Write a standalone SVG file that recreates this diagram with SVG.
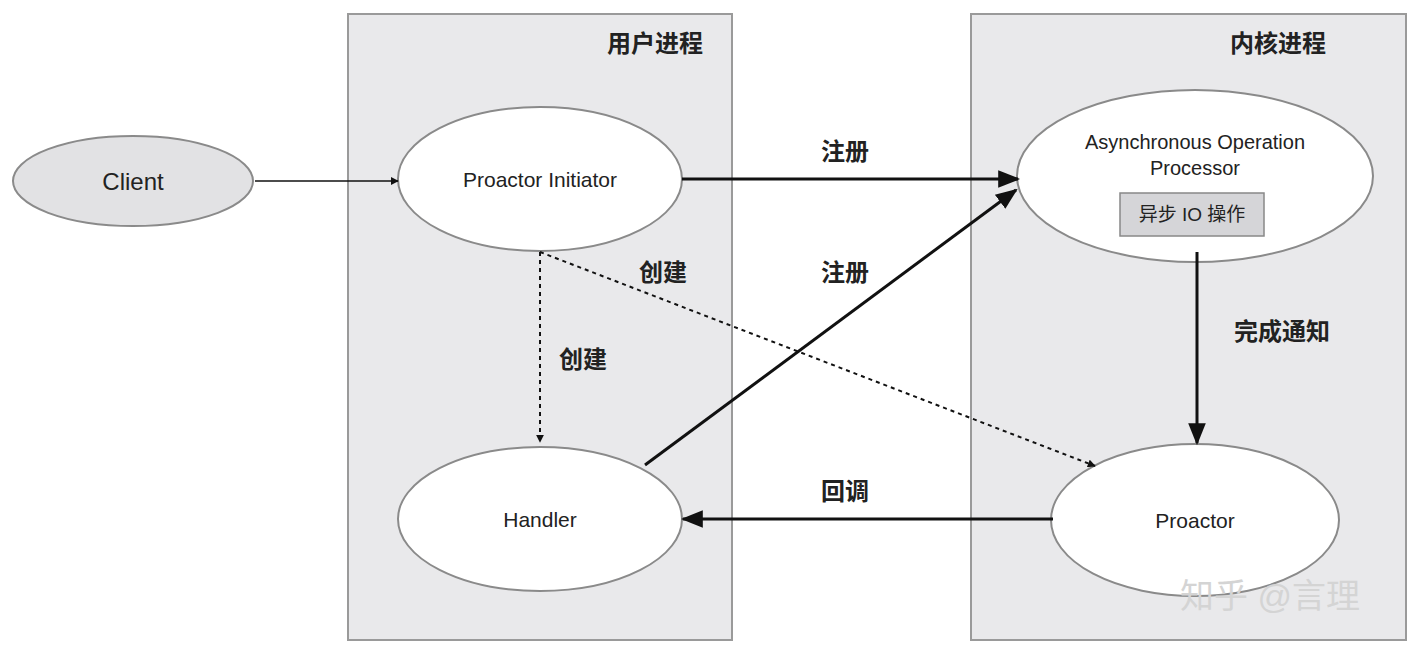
<svg xmlns="http://www.w3.org/2000/svg" width="1418" height="654" viewBox="0 0 1418 654">
<style>
.panel{fill:#e9e9eb;stroke:#9a9a9a;stroke-width:2}
.node{fill:#fff;stroke:#8a8a8a;stroke-width:2}
.t{font-family:"Liberation Sans","Noto Sans CJK SC",sans-serif;fill:#222;text-anchor:middle}
.c{stroke:#111;fill:none}
</style>
<defs>
<marker id="a" viewBox="0 0 10 10" refX="9" refY="5" markerWidth="8" markerHeight="8" orient="auto" markerUnits="userSpaceOnUse"><path d="M0,0L10,5L0,10z" fill="#111"/></marker>
<marker id="b" viewBox="0 0 10 10" refX="9" refY="5" markerWidth="22" markerHeight="22" orient="auto" markerUnits="userSpaceOnUse"><path d="M0,1L10,5L0,9z" fill="#111"/></marker>
</defs>
<rect width="1418" height="654" fill="#fff"/>
<rect class="panel" x="348" y="14" width="384" height="626"/>
<rect class="panel" x="971" y="14" width="435" height="626"/>
<text class="t" x="655" y="52" font-size="24" font-weight="bold">用户进程</text>
<text class="t" x="1278" y="52" font-size="24" font-weight="bold">内核进程</text>
<g id="client"><ellipse cx="133" cy="181" rx="120" ry="45" fill="#e2e2e4" stroke="#8a8a8a" stroke-width="2"/><text class="t" x="133" y="190" font-size="24">Client</text></g>
<g id="initiator"><ellipse class="node" cx="540" cy="179" rx="142" ry="72"/><text class="t" x="540" y="187" font-size="21">Proactor Initiator</text></g>
<g id="handler"><ellipse class="node" cx="540" cy="519" rx="142" ry="72"/><text class="t" x="540" y="527" font-size="21">Handler</text></g>
<g id="aop"><ellipse class="node" cx="1195" cy="176" rx="178" ry="86"/><text class="t" x="1195" y="149" font-size="20">Asynchronous Operation</text><text class="t" x="1195" y="175" font-size="20">Processor</text><rect x="1120" y="193" width="144" height="43" fill="#d5d5d8" stroke="#888" stroke-width="1.5"/><text class="t" x="1192" y="221" font-size="19">异步 IO 操作</text></g>
<g id="proactor"><ellipse class="node" cx="1195" cy="520" rx="144" ry="76"/><text class="t" x="1195" y="528" font-size="21">Proactor</text></g>
<g id="connectors">
<line class="c" x1="255" y1="181" x2="398" y2="181" stroke-width="1.5" marker-end="url(#a)"/>
<line class="c" x1="682" y1="179" x2="1018" y2="179" stroke-width="3" marker-end="url(#b)"/>
<line class="c" x1="645" y1="465" x2="1016" y2="190" stroke-width="3" marker-end="url(#b)"/>
<line class="c" x1="540" y1="252" x2="540" y2="442" stroke-width="2" stroke-dasharray="4,4" marker-end="url(#a)"/>
<line class="c" x1="540" y1="252" x2="1095" y2="466" stroke-width="2" stroke-dasharray="4,4" marker-end="url(#a)"/>
<line class="c" x1="1197" y1="252" x2="1197" y2="443" stroke-width="3" marker-end="url(#b)"/>
<line class="c" x1="1053" y1="519" x2="683" y2="519" stroke-width="3" marker-end="url(#b)"/>
</g>
<g class="t" font-size="24" font-weight="bold">
<text x="845" y="160">注册</text>
<text x="845" y="281">注册</text>
<text x="663" y="281">创建</text>
<text x="583" y="368">创建</text>
<text x="1282" y="340">完成通知</text>
<text x="845" y="500">回调</text>
</g>
<text class="t" x="1270" y="608" font-size="34" fill="#d0d0d0" style="fill:#d4d4d4">知乎 @言理</text>
</svg>
